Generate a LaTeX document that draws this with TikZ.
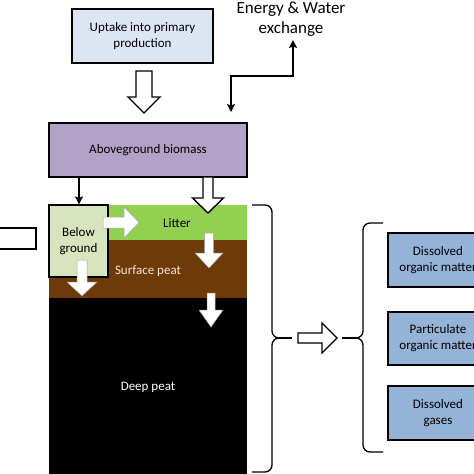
\documentclass[tikz,border=0pt]{standalone}
\usepackage{fontspec}
\setmainfont{Carlito}
\usetikzlibrary{arrows.meta}
\definecolor{uptakeblue}{HTML}{DCE6F2}
\definecolor{biompurple}{HTML}{B3A2C7}
\definecolor{littergreen}{HTML}{92D050}
\definecolor{belowgreen}{HTML}{D7E4BD}
\definecolor{peatbrown}{HTML}{6E3A07}
\definecolor{outblue}{HTML}{95B3D7}
\definecolor{peattext}{HTML}{F2E4D8}
\tikzset{
  box/.style={draw=black, line width=1.6pt, inner sep=0pt, align=center, font=\fontsize{13}{16}\selectfont},
  lbl/.style={inner sep=0pt, align=center, font=\fontsize{13}{16}\selectfont},
  thinarrow/.style={line width=1.4pt, -{Stealth[length=8pt,width=8pt,inset=1.5pt]}},
  blockout/.style={fill=white, draw=black, line width=1.4pt, line join=miter},
  blockin/.style={fill=white, draw=gray!70, line width=0.5pt},
  bracestyle/.style={draw=black, line width=1.3pt}
}
\begin{document}
\begin{tikzpicture}[x=1pt,y=-1pt]
\useasboundingbox (0,0) rectangle (474,474);
\clip (0,0) rectangle (474,474);
% top boxes
\node[box, fill=uptakeblue, minimum width=141pt, minimum height=54pt] (uptake) at (142.5,36) {Uptake into primary\\production};
\node[box, fill=biompurple, minimum width=198pt, minimum height=54pt] (biomass) at (148,150) {Aboveground biomass};
% energy text
\node[inner sep=0pt, align=center, font=\fontsize{17}{20}\selectfont] (energy) at (291,19) {Energy \& Water\\exchange};
% column layers
\fill[littergreen] (49,205) rectangle (247,240);
\fill[peatbrown] (49,240) rectangle (247,298);
\fill[black] (49,298) rectangle (247,480);
\node[box, fill=belowgreen, line width=1.2pt, minimum width=59pt, minimum height=72pt] (below) at (78.5,241) {Below\\ground};
\node[lbl] (litter) at (177,223) {Litter};
\node[lbl, text=peattext] (surface) at (148,271) {Surface peat};
\node[lbl, text=white] (deep) at (148,387) {Deep peat};
% left partial box
\node[draw=black, line width=1.4pt, fill=white, minimum width=50pt, minimum height=21pt] (leftbox) at (11,238.5) {};
% right output boxes
\node[box, fill=outblue, minimum width=100pt, minimum height=54pt] (dom) at (438,260) {Dissolved\\organic matter};
\node[box, fill=outblue, minimum width=100pt, minimum height=53pt] (pom) at (438,338.5) {Particulate\\organic matter};
\node[box, fill=outblue, minimum width=100pt, minimum height=54pt] (gas) at (438,413) {Dissolved\\gases};
% block arrows
\draw[blockout] (136,71) -- (152,71) -- (152,97) -- (160,97) -- (144,113) -- (128,97) -- (136,97) -- cycle;
\draw[blockout] (203,177) -- (213,177) -- (213,198) -- (223.5,198) -- (208,213) -- (192.5,198) -- (203,198) -- cycle;
\draw[blockin] (204.5,233) -- (213.5,233) -- (213.5,253) -- (223,253) -- (209,268) -- (195,253) -- (204.5,253) -- cycle;
\draw[blockin] (77,260) -- (87,260) -- (87,282) -- (97,282) -- (82,296) -- (67,282) -- (77,282) -- cycle;
\draw[blockin] (207,293) -- (215,293) -- (215,310) -- (223,310) -- (211,327) -- (199,310) -- (207,310) -- cycle;
\draw[blockin] (103,217) -- (124,217) -- (124,207) -- (139,222.5) -- (124,238) -- (124,228) -- (103,228) -- cycle;
\draw[blockout] (298,333) -- (322,333) -- (322,323) -- (337,338) -- (322,353) -- (322,343) -- (298,343) -- cycle;
% thin arrows
\coordinate (bioL) at (79,177);
\draw[thinarrow] (bioL) -- (below.north -| bioL);
\draw[line width=1.6pt] (bioL) -- (128,177);
\coordinate (ewlow) at (231,112);
\coordinate (ewhigh) at (293,40);
\draw[line width=1.4pt, {Stealth[length=8pt,width=8pt,inset=1.5pt]}-{Stealth[length=8pt,width=8pt,inset=1.5pt]}] (ewlow) -- (231,76) -- (293,76) -- (ewhigh);
% braces
\draw[bracestyle] (252,205) -- (265,205) to[out=0,in=90] (272,212) -- (272,331) to[out=-90,in=180] (279,338) to[out=180,in=90] (272,345) -- (272,465) to[out=-90,in=0] (265,472) -- (252,472);
\draw[bracestyle] (279,338) -- (292,338);
\draw[bracestyle] (383,223) -- (370,223) to[out=180,in=90] (363,230) -- (363,331) to[out=-90,in=0] (356,338) to[out=0,in=90] (363,345) -- (363,445) to[out=-90,in=180] (370,452) -- (383,452);
\draw[bracestyle] (342,338) -- (356,338);
\end{tikzpicture}
\end{document}
